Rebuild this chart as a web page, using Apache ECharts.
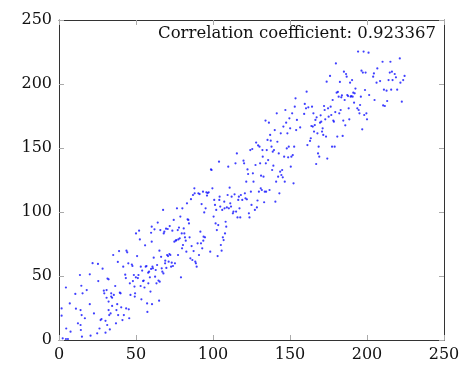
<!DOCTYPE html>
<html>
<head>
<meta charset="utf-8">
<script src="https://cdn.jsdelivr.net/npm/echarts@6/dist/echarts.min.js"></script>
<style>
  html, body { margin: 0; padding: 0; background: #fff; }
  #chart { width: 474px; height: 376px; }
</style>
</head>
<body>
<div id="chart"></div>
<script>
// scatter points
var xVals = [
  1.7, 1.7, 2.4, 4.5, 4.5, 4.7, 5.8, 7, 7.5, 10.6, 11, 12.3, 13.6, 14, 14, 14.2, 14.5, 14.7, 14.9, 15.3,
  16.8, 18, 20, 20, 20.5, 21.8, 22.7, 25.3, 25.5, 24.8, 26.3, 27, 27.6, 28.3, 29.1, 29.4, 30.2, 30.2, 30.9, 30.9,
  31.3, 31.5, 32.2, 32.2, 32.2, 32.6, 33, 33.5, 33.9, 33.9, 34.5, 34.5, 35.2, 35.6, 36.5, 37, 37.3, 37.8, 38.2, 38.4,
  39, 39.5, 40, 40.4, 41.2, 41.7, 42.1, 43, 43.4, 43.6, 43.8, 44.3, 45, 45.3, 45.6, 46, 46.4, 47.3, 47.7, 48,
  48.6, 49, 49.2, 49.4, 49.9,
  50, 50.7, 51.2, 51.6, 52, 52.5, 53, 53.1, 53.5, 54, 54.6, 55, 55.5, 55.9, 56.3, 56.8, 57.2, 57.4, 57.9, 58,
  58.5, 59, 59.4, 59.8, 59.8, 60.2, 60.2, 60.4, 60.7, 61, 61.5, 62, 62.4, 62.8, 63.3, 63.7, 64.1, 64.6, 65, 65.2,
  65.4, 65.8, 66.3, 66.7, 67.1, 67.6, 67.8, 68, 68.4, 68.9, 69, 69.5, 69.7, 70.2, 70.6, 70.8, 71.2, 71.7, 71.9, 72.3,
  72.8, 73.2, 73.6, 74, 74.5, 74.9, 75.3, 75.8, 76.2, 76.6, 77.1, 77.3, 77.5, 77.9, 78.4, 78.8, 79.2, 79.7, 79.9, 80.1,
  80.5, 81, 81.4, 81.8, 82.3, 82.7, 83.1, 83.5, 84, 84.4, 84.8, 85.3, 85.7, 86.1, 86.6, 87, 87.4, 87.9, 88.1, 88.5,
  88.9, 89.4, 90, 90.5, 90.9, 91.3, 91.8, 92.2, 92.6, 93, 93.5, 93.7, 93.9, 94.3, 94.8, 95.2, 95.7, 96.1, 96.5, 97.2,
  98.2, 98.7, 99.1, 99.6,
  100.4, 100.8, 101.3, 101.7, 102.1, 102.5, 103, 103.4, 103.9, 104.1, 104.3, 104.7, 105.1, 105.6, 106, 106.4, 106.9, 107.3, 107.5, 107.8,
  108.2, 108.6, 109, 109.5, 109.9, 110.3, 110.8, 111.2, 111.7, 112.1, 112.9, 113.3, 114, 114.6, 115, 115.5, 115.9, 116.4, 116.8, 117.2,
  117.7, 118.1, 119, 119.8, 120.2, 120.7, 121.1, 121.6, 122, 122.4, 122.8, 123.3, 123.7, 124.2, 124.6, 125, 125.5, 125.9, 126.3, 127.2,
  127.6, 128, 128.5, 128.9, 129.3, 129.8, 130.2, 130.6, 131, 131.2, 131.7, 132.1, 132.3, 132.8, 133.2, 133.6, 134.1, 134.3, 134.5, 134.9,
  135.4, 135.8, 136.3, 136.7, 137.1, 137.5, 138, 138.4, 138.8, 139.2, 139.6, 140.1, 140.5, 141, 141.4, 141.8, 142.3, 142.7, 143.1, 143.6,
  144, 144.4, 144.9, 145.3, 145.7, 146.2, 146.6, 147, 147.5, 147.9, 148.3, 148.8, 149.2, 149.6, 150.1,
  150.5, 150.9, 151.4, 151.8, 152.3, 152.7, 153.1, 153.6, 154, 154.5, 156.6, 159.2, 159.6, 160.4, 160.8, 161.3, 161.9, 163, 163.5, 163.9,
  164.3, 164.8, 165.2, 165.6, 166.1, 166.5, 167, 167.3, 167.8, 168.2, 168.6, 169, 169.5, 169.9, 170.3, 170.8, 171.2, 171.6, 172.1, 172.5,
  172.9, 173.4, 173.8, 174.2, 174.7, 175.1, 176, 176.4, 176.8, 177.3, 177.7, 178.1, 178.5, 179, 179.4, 179.8, 180.3, 180.7, 181.1, 181.6,
  182, 182.4, 182.9, 183.3, 183.7, 184.2, 184.6, 185, 185.5, 185.9, 186.4, 186.8, 187.2, 187.7, 188.1, 188.5, 189, 189.4, 189.8, 190.3,
  190.7, 191.1, 191.6, 192, 192.5, 193.7, 194.2, 194.6, 195.1, 195.5, 196, 196.4, 196.9, 197.3, 197.8, 198.2, 198.7, 199.1, 199.6, 200,
  201, 201.4, 204, 204.5, 204.9, 206.2, 206.7, 208.5, 210.1, 210.5, 211, 211.6, 212.7, 213.1, 214, 214.8, 215.2, 215.7, 216.2, 216.6,
  218, 218.8, 219.6, 221.3, 221.7, 222.6, 223.5, 224.4
];
var yVals = [
  24.7, 19, 1.3, 0.8, 41, 9, 0.8, 28.6, 6.5, 36, 24.5, 13, 50.8, 23.4, 11.7, 7.8, 42.4, 19.5, 2.6, 36.5,
  17, 39, 51.3, 28, 3.4, 60, 20.8, 59.4, 46, 5.2, 9, 15.6, 16.4, 55.7, 38.5, 36.5, 5.7, 15, 39, 33,
  11.7, 48, 23.4, 47.4, 30, 19.5, 8.3, 20.8, 36.5, 33.9, 26.6, 33, 66.4, 35.2, 42.2, 13, 23.4, 28, 61, 19.5,
  69.5, 37, 36.5, 25.5, 15.6, 57.3, 19.5, 51, 48.4, 24.7, 69.8, 68.5, 59.9, 24, 17, 44.3, 35.2, 59, 57.8, 46,
  50.8, 41.7, 33.9, 36.5, 49,
  83.3, 65.6, 48.4, 50.8, 85.4, 78.6, 42.2, 57.3, 31.8, 54.2, 46, 46.4, 41, 74, 57.3, 57.8, 28.6, 21.9, 52.6, 44.3,
  53.4, 49, 37.8, 83.8, 55.5, 76.8, 88.5, 28, 57.3, 56, 64.3, 86.5, 49.5, 54.7, 44.3, 58.6, 91.7, 46.4, 30.7, 69.8,
  45.6, 85.9, 65, 56, 53.4, 101.6, 52, 83.3, 84.6, 59.9, 62, 87, 56.3, 66.4, 86.7, 65.6, 61.2, 67.2, 89, 66.4,
  57.3, 60.4, 85.4, 57.8, 93.8, 76.8, 59.9, 77.6, 78.1, 102.9, 85.9, 66.4, 78.6, 87.8, 79.4, 96.4, 49, 83.3, 71.6, 102.9,
  74.2, 87.2, 83.3, 80.2, 77.6, 69, 106.8, 94.3, 93.8, 91.1, 80.2, 63.8, 110, 73.4, 62.5, 113.3, 69.5, 118.5, 114.6, 61.2,
  59.9, 57.3, 75.5, 114.6, 66.4, 114, 84.6, 75.5, 106.2, 71.6, 115.9, 77.6, 80.7, 99.7, 80.2, 102.9, 115.4, 112.8, 114.8, 115.4,
  69, 133.3, 132.8, 118.5,
  96.4, 109.4, 105.5, 91.1, 101.6, 85.9, 65.6, 89.8, 139.3, 109.4, 112, 104.2, 74.2, 69.8, 101.6, 80.2, 78.1, 108.1, 102.9, 83.3,
  92.4, 88.5, 103.6, 113.3, 135.4, 102.9, 119, 106.8, 104.2, 112, 99, 100.3, 113.8, 138, 100.3, 145.8, 95.8, 109.4, 112, 102.9,
  95.8, 113.3, 109.4, 140.1, 138, 114.6, 110.7, 123.7, 109.9, 133.3, 129.7, 99, 95.8, 148.4, 115.9, 105.5, 149.2, 130.2, 123.7, 101.6,
  136.7, 154.2, 103.6, 109, 152, 115.9, 151, 138, 118.5, 128.4, 117.2, 148.4, 143.2, 127.6, 107.6, 115.9, 171.4, 138, 115.9, 148.4,
  156.3, 140.6, 169.8, 117.2, 160.2, 155.7, 151, 132.8, 147.1, 136.2, 148.4, 164, 108.1, 123.7, 177.1, 154.9, 127.6, 145.8, 114.6, 131.5,
  161.5, 128.9, 132.8, 127.1, 166.7, 143.2, 123.7, 179.7, 169.8, 149.7, 161.5, 142.7, 151, 173.2, 165.4,
  135.4, 143.2, 177.1, 144.5, 122.4, 151, 182.3, 188.8, 164, 171.9, 166.1, 176.6, 184.4, 181, 194, 152.3, 181.8, 155.5, 157.6, 167.2,
  182.3, 166.7, 177.1, 162.8, 167.9, 171.9, 137.5, 174, 161.5, 145.8, 151, 143.2, 169.8, 175.5, 170.6, 162.8, 165.4, 160.2, 182.8, 179.7,
  172.4, 158.9, 201.8, 141.7, 181, 174.5, 206.3, 182.3, 175.8, 151, 187.5, 171.4, 170.6, 151, 178.1, 216.1, 193.2, 158.9, 193.8, 190.1,
  177.1, 201.6, 179.7, 189.6, 191.1, 159.4, 171.4, 209.6, 187.5, 167.7, 207.8, 205.7, 191.4, 190.6, 181, 172.4, 201, 190.1, 190.6, 203.1,
  190.1, 193.2, 185.4, 192.7, 196.4, 181, 225.3, 179.7, 177.1, 183.6, 190.1, 210.4, 164.6, 208.9, 225.3, 175.8, 195.3, 208.9, 177.1, 172.4,
  224.5, 191.4, 205.7, 208.3, 187.5, 201, 212.2, 202.3, 217.4, 183.3, 195.6, 182.8, 194.8, 186.7, 203.1, 208.9, 217.4, 195.6, 209.6, 203.1,
  207.8, 205.2, 195.6, 220, 201, 186.2, 203.1, 206.3
];
var xTicks = [0, 50, 100, 150, 200, 250];
var yTicks = [0, 50, 100, 150, 200, 250];
var corrText = 'Correlation coefficient: 0.923367';

var points = [];
for (var i = 0; i < xVals.length; i++) {
  points.push([xVals[i], yVals[i]]);
}

var serif = '"DejaVu Serif", "Liberation Serif", serif';
var frameColor = '#333';
var tickColor = '#aaa';

function makeAxis(pos, ticks, showLabel) {
  return {
    type: 'value',
    position: pos,
    min: ticks[0],
    max: ticks[ticks.length - 1],
    interval: 50,
    splitLine: { show: false },
    axisLine: { show: true, onZero: false, lineStyle: { color: frameColor, width: 1 } },
    axisTick: { show: true, inside: true, length: 5, lineStyle: { color: tickColor, width: 1 } },
    axisLabel: {
      show: showLabel,
      color: '#111',
      fontFamily: serif,
      fontSize: 16,
      margin: 7
    }
  };
}

var chart = echarts.init(document.getElementById('chart'), null, { renderer: 'canvas' });
chart.setOption({
  animation: false,
  backgroundColor: '#fff',
  grid: { left: 59, right: 30, top: 20, bottom: 36, containLabel: false },
  xAxis: [makeAxis('bottom', xTicks, true), makeAxis('top', xTicks, false)],
  yAxis: [makeAxis('left', yTicks, true), makeAxis('right', yTicks, false)],
  graphic: [{
    type: 'text',
    right: 38,
    top: 25,
    style: {
      text: corrText,
      font: '16.5px ' + serif,
      fill: '#111'
    }
  }],
  series: [{
    type: 'scatter',
    xAxisIndex: 0,
    yAxisIndex: 0,
    symbol: 'circle',
    symbolSize: 2.2,
    itemStyle: { color: '#0f0fff' },
    data: points
  }]
});
</script>
</body>
</html>
